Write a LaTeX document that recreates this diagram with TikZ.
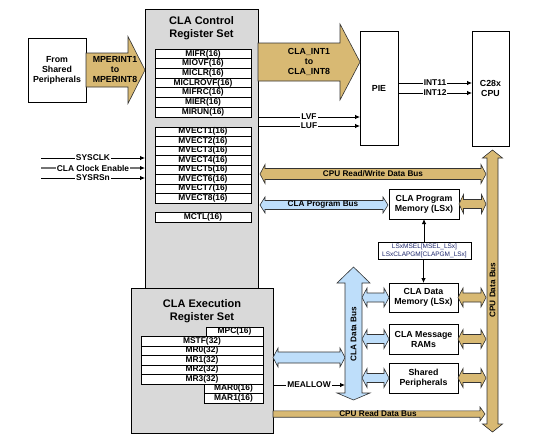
\documentclass[tikz,border=0pt]{standalone}
\usepackage{fontspec}
\setmainfont{Liberation Sans}
\usetikzlibrary{arrows.meta}
\definecolor{bustan}{RGB}{216,185,115}
\definecolor{busblue}{RGB}{190,222,250}
\definecolor{boxgray}{RGB}{217,217,217}
\definecolor{navy}{RGB}{30,40,110}
% horizontal double arrow: style, x1, x2, yc, body half, head half, head length
\newcommand{\hbus}[7]{%
  \filldraw[#1] (#2,#4) -- ({#2+#7},{#4-#6}) -- ({#2+#7},{#4-#5}) -- ({#3-#7},{#4-#5}) -- ({#3-#7},{#4-#6}) -- (#3,#4) -- ({#3-#7},{#4+#6}) -- ({#3-#7},{#4+#5}) -- ({#2+#7},{#4+#5}) -- ({#2+#7},{#4+#6}) -- cycle;}
% horizontal single arrow (to the right)
\newcommand{\hsingle}[7]{%
  \filldraw[#1] (#2,{#4-#5}) -- ({#3-#7},{#4-#5}) -- ({#3-#7},{#4-#6}) -- (#3,#4) -- ({#3-#7},{#4+#6}) -- ({#3-#7},{#4+#5}) -- (#2,{#4+#5}) -- cycle;}
% vertical double arrow: style, xc, y1, y2, body half, head half, top head len, bottom head len
\newcommand{\vbus}[8]{%
  \filldraw[#1] (#2,#3) -- ({#2+#6},{#3+#7}) -- ({#2+#5},{#3+#7}) -- ({#2+#5},{#4-#8}) -- ({#2+#6},{#4-#8}) -- (#2,#4) -- ({#2-#6},{#4-#8}) -- ({#2-#5},{#4-#8}) -- ({#2-#5},{#3+#7}) -- ({#2-#6},{#3+#7}) -- cycle;}
\begin{document}
\begin{tikzpicture}[x=1pt,y=-1pt,
  box/.style={draw=black, fill=white, line width=0.8pt, inner sep=0pt, outer sep=0pt, align=center,
    font=\fontsize{8.8}{10}\selectfont\bfseries, anchor=north west},
  reg/.style={draw=black, fill=white, line width=0.7pt, inner sep=0pt, outer sep=0pt,
    font=\fontsize{8.4}{9}\selectfont\bfseries, anchor=north west},
  title/.style={align=center, font=\fontsize{11}{12.5}\selectfont\bfseries},
  lbl/.style={fill=white, text=black, inner sep=1pt, font=\fontsize{8.4}{9}\selectfont\bfseries},
  buslbl/.style={inner sep=0pt, font=\fontsize{8.2}{9}\selectfont\bfseries},
  sig/.style={draw=black, line width=0.8pt, -{Latex[length=5pt,width=4.5pt]}},
  tanbus/.style={fill=bustan, draw=black!80, line width=0.6pt},
  bluebus/.style={fill=busblue, draw=black!80, line width=0.6pt}]
\useasboundingbox (0,0) rectangle (534,439);

% ---------- main boxes ----------
\node[box, minimum width=58, minimum height=64] (fsp) at (28,38) {From\\Shared\\Peripherals};
\node[box, fill=boxgray, minimum width=113, minimum height=279] (ctrl) at (145,9) {};
\node[title] (ctrlt) at (201.5,28) {CLA Control\\Register Set};
\node[box, minimum width=38, minimum height=114] (pie) at (360,31) {PIE};
\node[box, minimum width=37, minimum height=115] (cpu) at (472,31) {C28x\\CPU};
\node[box, minimum width=70, minimum height=30] (cpm) at (389,189) {CLA Program\\Memory (LSx)};
\node[box, minimum width=93, minimum height=17, line width=0.5pt, text=navy,
  font=\fontsize{6.5}{8}\selectfont] (lsx) at (378,242) {LSxMSEL[MSEL\_LSx]\\LSxCLAPGM[CLAPGM\_LSx]};
\node[box, minimum width=69, minimum height=29] (cdm) at (389,283) {CLA Data\\Memory (LSx)};
\node[box, minimum width=69, minimum height=30] (cmr) at (389,324) {CLA Message\\RAMs};
\node[box, minimum width=69, minimum height=30] (shp) at (389,363) {Shared\\Peripherals};
\node[box, fill=boxgray, minimum width=142, minimum height=145] (exec) at (131,288) {};
\node[title] (exect) at (202,311) {CLA Execution\\Register Set};

% ---------- control registers ----------
\foreach \n/\t [count=\i from 0] in {mifr/MIFR(16), miovf/MIOVF(16), miclr/MICLR(16),
    miclrovf/MICLROVF(16), mifrc/MIFRC(16), mier/MIER(16), mirun/MIRUN(16)}
  \node[reg, minimum width=96, minimum height=9.7] (\n) at (155,{49+\i*9.7}) {\t};
\foreach \k [count=\i from 0] in {1,...,8}
  \node[reg, minimum width=96, minimum height=9.5] (mvect\k) at (155,{127+\i*9.5}) {MVECT\k(16)};
\node[reg, minimum width=96, minimum height=10] (mctl) at (155,212) {MCTL(16)};

% ---------- execution registers ----------
\node[reg, minimum width=57, minimum height=9.5] (mpc) at (206,327) {MPC(16)};
\foreach \n/\t [count=\i from 0] in {mstf/MSTF(32), mr0/MR0(32), mr1/MR1(32), mr2/MR2(32), mr3/MR3(32)}
  \node[reg, minimum width=122, minimum height=9.5] (\n) at (141,{336.5+\i*9.5}) {\t};
\node[reg, minimum width=59, minimum height=9.5] (mar0) at (204,384) {MAR0(16)};
\node[reg, minimum width=59, minimum height=9.5] (mar1) at (204,393.5) {MAR1(16)};

% ---------- big arrows ----------
\hsingle{tanbus}{86}{145}{70}{17}{33.5}{17}
\node[align=center, font=\fontsize{8.8}{10}\selectfont\bfseries] (mper) at (115,70) {MPERINT1\\to\\MPERINT8};
\hsingle{tanbus}{258}{360}{62}{19}{38}{20}
\node[align=center, font=\fontsize{8.8}{10}\selectfont\bfseries] (clint) at (309,62) {CLA\_INT1\\to\\CLA\_INT8};

\hbus{tanbus}{260}{486}{174}{5.5}{9.5}{5}
\node[buslbl] (rwbus) at (373,174) {CPU Read/Write Data Bus};
\hbus{bluebus}{260}{388}{205}{4.5}{8}{5}
\node[buslbl] (pbus) at (323,205) {CLA Program Bus};
\hbus{tanbus}{459}{486}{204}{4.5}{9.5}{4.5}

\foreach \yc in {297.5,339,378} {
  \hbus{bluebus}{362}{389}{\yc}{4.5}{9.5}{5}
  \hbus{tanbus}{458}{486}{\yc}{4.5}{9.5}{5}
}
\hbus{bluebus}{273}{345}{357.5}{5.5}{9.5}{5}

\vbus{bluebus}{353.5}{267}{400}{8.5}{16.5}{16}{7}
\node[buslbl, rotate=90] (dbus) at (353.5,334) {CLA Data Bus};

\hsingle{tanbus}{273}{485}{414}{3.2}{7}{5}
\node[buslbl] (rbus) at (378,414) {CPU Read Data Bus};

\vbus{tanbus}{492.5}{150}{432}{5.5}{10}{8}{8}
\node[buslbl, rotate=90] (cbus) at (492.5,290) {CPU Data Bus};

% ---------- signals ----------
\coordinate (s1) at (41,158);
\coordinate (s2) at (41,168);
\coordinate (s3) at (41,178);
\draw[sig] (s1) -- node[lbl]{SYSCLK} (s1 -| ctrl.west);
\draw[line width=1.8pt, black!55, -{Latex[length=5pt,width=4.5pt,color=black]}] (s2) -- node[lbl]{CLA Clock Enable} (s2 -| ctrl.west);
\draw[sig] (s3) -- node[lbl]{SYSRSn} (s3 -| ctrl.west);

\draw[sig] (ctrl.east |- 0,117) -- node[lbl]{LVF} (pie.west |- 0,117);
\draw[sig] (ctrl.east |- 0,126) -- node[lbl]{LUF} (pie.west |- 0,126);
\draw[sig] (pie.east |- 0,83) -- node[lbl]{INT11} (cpu.west |- 0,83);
\draw[sig] (pie.east |- 0,93) -- node[lbl]{INT12} (cpu.west |- 0,93);

\coordinate (cdbl) at (345,385);
\draw[sig] (exec.east |- cdbl) -- node[lbl]{MEALLOW} (cdbl);

\draw[sig] (lsx.north -| cpm.south) -- (cpm.south);
\draw[sig] (lsx.south -| cdm.north) -- (cdm.north);
\end{tikzpicture}
\end{document}
